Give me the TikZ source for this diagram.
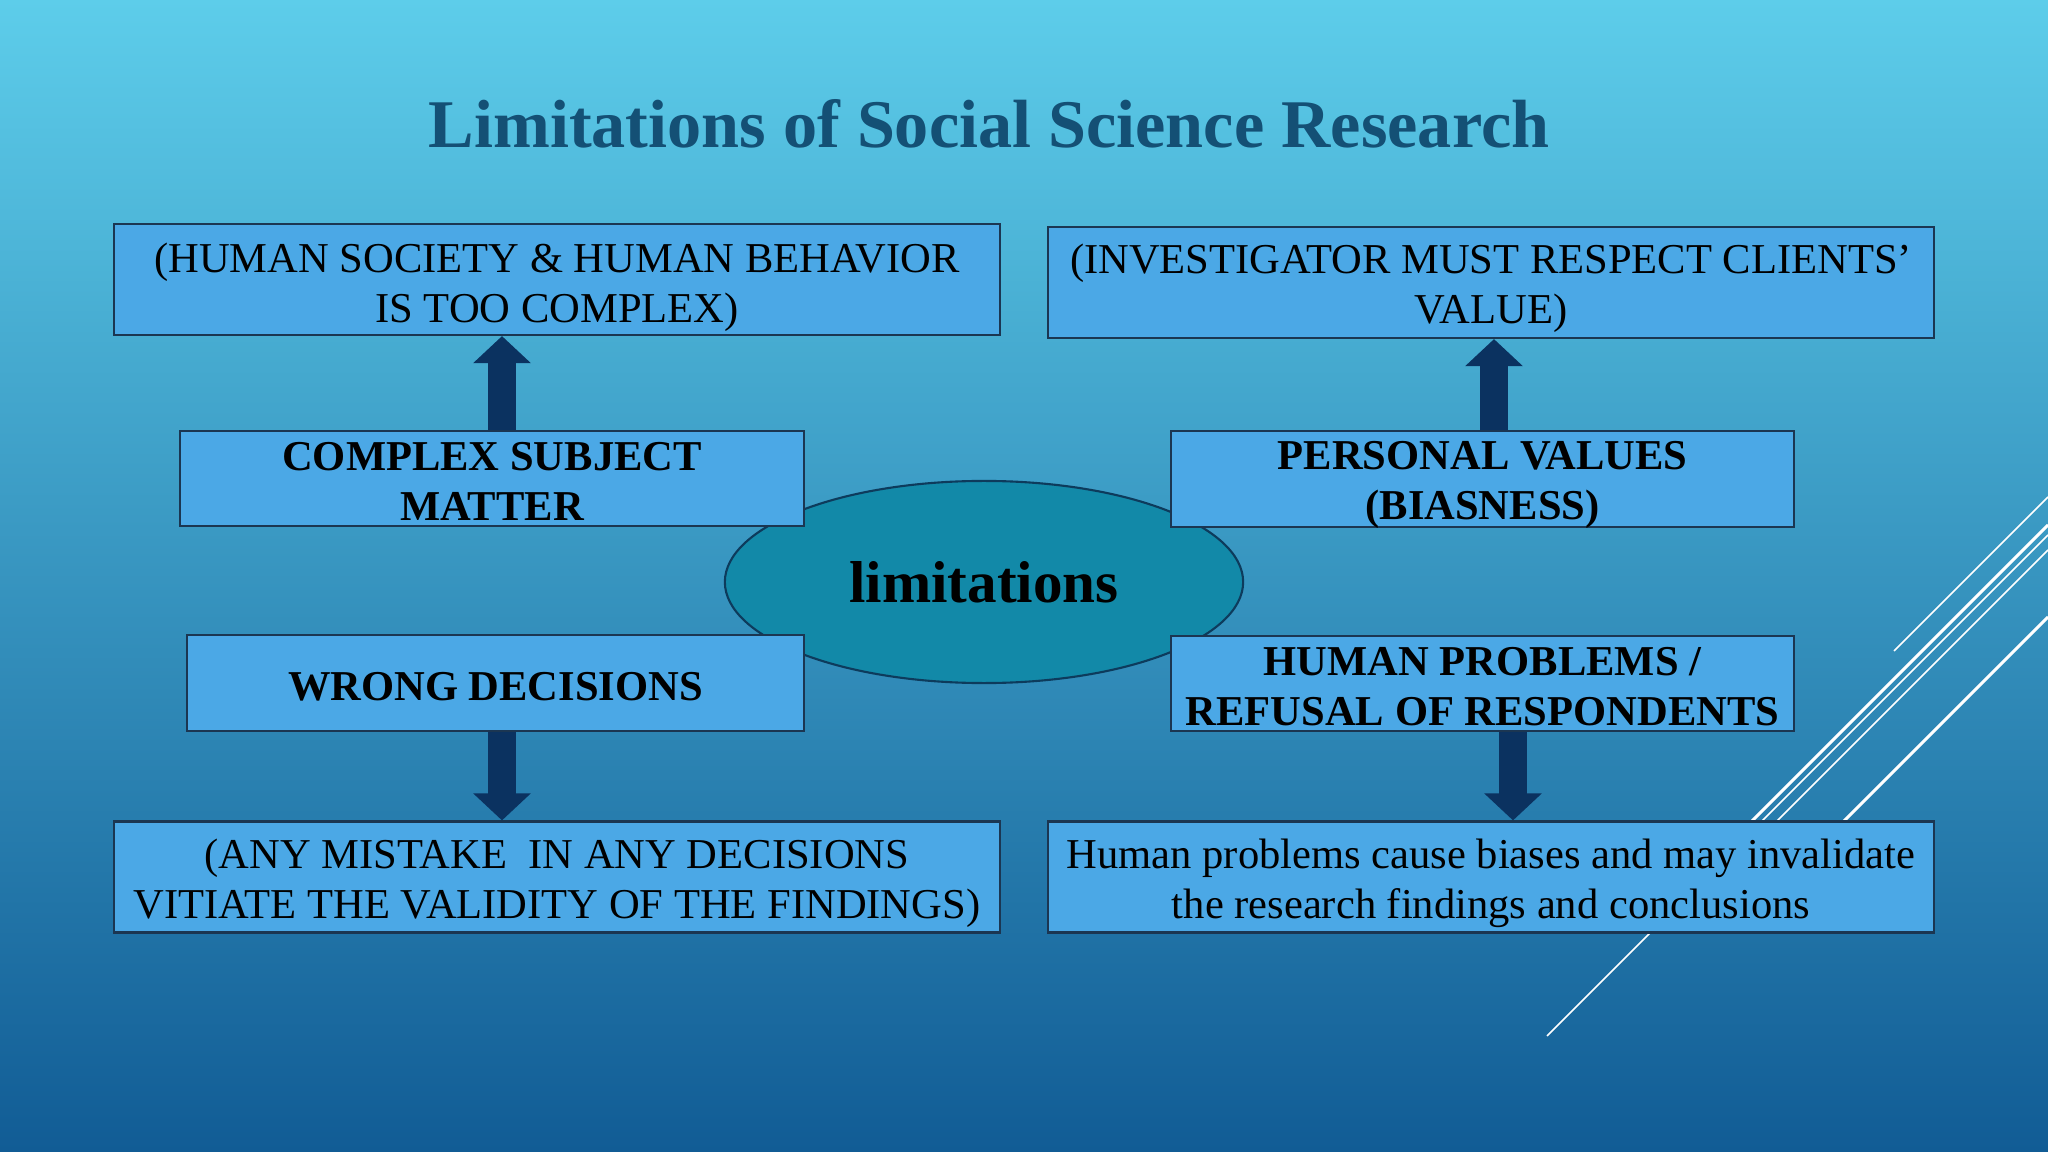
\documentclass[tikz,border=0pt]{standalone}
\usepackage{fontspec}
\setmainfont{Liberation Serif}
\usetikzlibrary{arrows.meta,shapes.geometric}
\definecolor{bgtop}{HTML}{5DCDEA}
\definecolor{bgmid}{HTML}{3A9DCA}
\definecolor{bgbot}{HTML}{115C95}
\definecolor{boxfill}{HTML}{4BA8E6}
\definecolor{boxline}{HTML}{1B3652}
\definecolor{ellfill}{HTML}{1289A8}
\definecolor{ellline}{HTML}{0D3B5C}
\definecolor{arrowc}{HTML}{0B3260}
\definecolor{titlec}{HTML}{145075}
\newcommand{\lowtext}[2]{\raisebox{-#1}[0pt][0pt]{\begin{tabular}{@{}c@{}}#2\end{tabular}}}
\begin{document}
\begin{tikzpicture}[x=0.01cm,y=-0.01cm,
  box/.style={draw=boxline, line width=0.6pt, fill=boxfill, rectangle, align=center, inner sep=0pt, font=\fontsize{12.1}{14.2}\selectfont},
  bigbox/.style={box, minimum width=8.86cm, minimum height=1.11cm},
  midbox/.style={box, minimum width=6.23cm, minimum height=0.955cm, font=\fontsize{12.1}{14.2}\selectfont\bfseries},
  blockarrow/.style={draw=arrowc, line width=0.28cm, -{Triangle[width=0.56cm,length=0.27cm]}},
  thickdeco/.style={white, line width=0.85pt},
  thindeco/.style={white, line width=0.45pt}]
\useasboundingbox (0,0) rectangle (2048,1152);
\clip (0,0) rectangle (2048,1152);
\shade[top color=bgtop, middle color=bgmid, bottom color=bgbot] (0,0) rectangle (2048,1152);

% decorative lines
\draw[thindeco] (1894,651) -- (2048,497);
\draw[thickdeco] (1733,840) -- (2048,525);
\draw[thindeco] (1547,1036) -- (2048,535);
\draw[thindeco] (1758,840) -- (2048,550);
\draw[thickdeco] (1825,840) -- (2048,617);

% title
\node[anchor=base, text=titlec, font=\fontsize{19.4}{22}\selectfont\bfseries] (title) at (989,148) {Limitations of Social Science Research};

% central ellipse
\node[ellipse, draw=ellline, line width=0.6pt, fill=ellfill, minimum width=5.18cm, minimum height=2.02cm, inner sep=0pt, font=\fontsize{16.8}{20}\selectfont\bfseries] (lim) at (984,582) {limitations};

% outer boxes
\node[bigbox] (b1) at (557,279.5) {\lowtext{0.185cm}{(HUMAN SOCIETY \& HUMAN BEHAVIOR\\IS TOO COMPLEX)}};
\node[bigbox] (b2) at (1491,282.5) {\lowtext{0.165cm}{(INVESTIGATOR MUST RESPECT CLIENTS’\\VALUE)}};
\node[bigbox] (b3) at (557,877) {\lowtext{0.17cm}{(ANY MISTAKE\ \ IN ANY DECISIONS\\VITIATE THE VALIDITY OF THE FINDINGS)}};
\node[bigbox] (b4) at (1491,877) {\lowtext{0.167cm}{Human problems cause biases and may invalidate\\the research findings and conclusions}};

% inner boxes
\node[midbox, minimum width=6.24cm] (c1) at (492,478.5) {\lowtext{0.175cm}{COMPLEX SUBJECT\\MATTER}};
\node[midbox] (c2) at (1482.5,479) {\lowtext{0.16cm}{PERSONAL VALUES\\(BIASNESS)}};
\node[midbox, minimum width=6.17cm] (c3) at (495.5,683) {\lowtext{0.18cm}{WRONG DECISIONS}};
\node[midbox] (c4) at (1482.5,683.5) {\lowtext{0.175cm}{HUMAN PROBLEMS /\\REFUSAL OF RESPONDENTS}};

% arrows
\coordinate (a1s) at ([xshift=0.1cm]c1.north);
\coordinate (a1e) at (a1s |- b1.south);
\coordinate (a2s) at ([xshift=0.115cm]c2.north);
\coordinate (a2e) at (a2s |- b2.south);
\coordinate (a3s) at ([xshift=0.065cm]c3.south);
\coordinate (a3e) at (a3s |- b3.north);
\coordinate (a4s) at ([xshift=0.305cm]c4.south);
\coordinate (a4e) at (a4s |- b4.north);
\draw[blockarrow] (a1s) -- (a1e);
\draw[blockarrow] (a2s) -- (a2e);
\draw[blockarrow] (a3s) -- (a3e);
\draw[blockarrow] (a4s) -- (a4e);
\end{tikzpicture}
\end{document}
